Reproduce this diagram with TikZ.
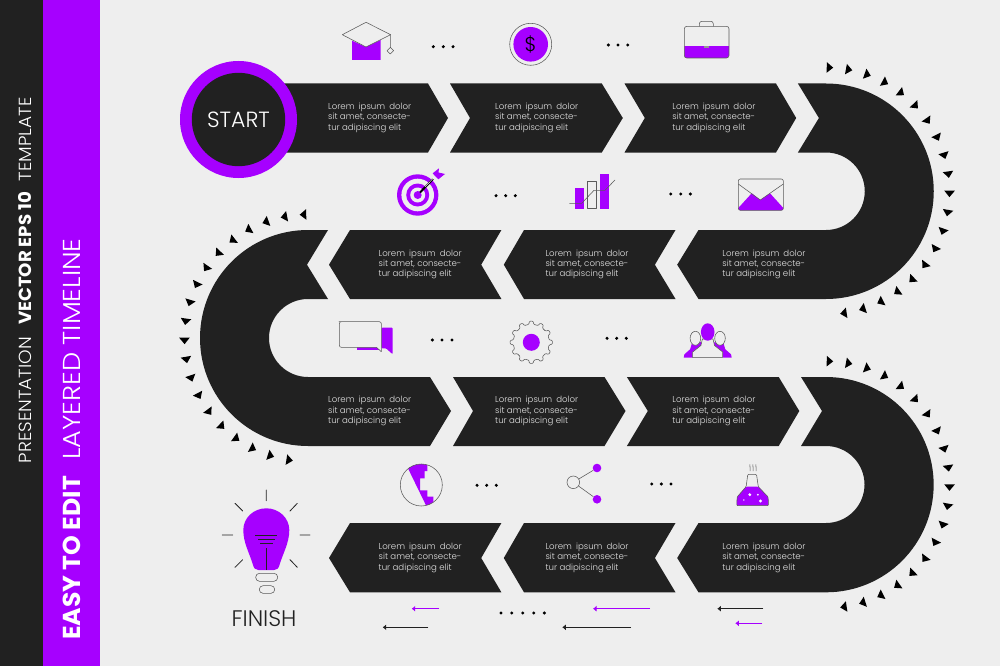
\documentclass[tikz,border=0pt]{standalone}
\usepackage{fontspec}
\setmainfont{Poppins}
\newfontfamily\lightf{Poppins Light}
\newfontfamily\boldf{Poppins Bold}
\usetikzlibrary{arrows.meta}
\definecolor{ink}{HTML}{212121}
\definecolor{vio}{HTML}{A600FF}
\definecolor{paper}{HTML}{EEEEEE}
\definecolor{lineg}{HTML}{5A5A5A}
\definecolor{lore}{HTML}{E2E2E2}
\tikzset{
  road/.style={fill=ink},
  thin line/.style={draw=lineg,line width=0.55pt,line join=round},
  dark line/.style={draw=ink,line width=0.8pt,line cap=round},
  dotm/.style={fill=black},
  vfill/.style={fill=vio},
  lorem/.style={inner sep=0pt,anchor=north west,text=lore,font=\lightf\fontsize{8.6}{10.35}\selectfont,align=left},
  arrowv/.style={draw=vio,line width=0.9pt,-{Latex[length=3.5pt,width=6pt]}},
  arrowk/.style={draw=ink,line width=0.9pt,-{Latex[length=3.5pt,width=6pt]}},
}
\newcommand\loremtext{\hbox to 83pt{Lorem\hfill ipsum\hfill dolor}\\sit amet, consecte-\\tur adipiscing elit}
\newcommand\threedots[4]{\fill[dotm] (#1,#4) circle[radius=1.7pt] (#2,#4) circle[radius=1.7pt] (#3,#4) circle[radius=1.7pt];}
\newcommand\bandticks[4]{%
  \foreach \i in {0,...,19}{%
    \pgfmathsetmacro\aa{#3+\i*#4}%
    \pgfmathsetmacro\sg{(#4>0)?1:-1}%
    \pgfmathsetmacro\px{#1+123.5*cos(\aa)}%
    \pgfmathsetmacro\py{#2-123.5*sin(\aa)}%
    \pgfmathsetmacro\tx{-\sg*sin(\aa)}%
    \pgfmathsetmacro\ty{-\sg*cos(\aa)}%
    \pgfmathsetmacro\nx{cos(\aa)}%
    \pgfmathsetmacro\ny{-sin(\aa)}%
    \fill[black] (\px+4*\tx,\py+4*\ty) -- (\px-2.5*\tx+5.3*\nx,\py-2.5*\ty+5.3*\ny) -- (\px-2.5*\tx-5.3*\nx,\py-2.5*\ty-5.3*\ny) -- cycle;
  }}
\begin{document}
\begin{tikzpicture}[x=1pt,y=-1pt]
\useasboundingbox (0,0) rectangle (1000,666);
\fill[paper] (0,0) rectangle (1000,666);
% side bands
\fill[ink] (0,0) rectangle (43,666);
\fill[vio] (43,0) rectangle (100,666);
\node[rotate=90,anchor=west,inner sep=0pt,text=white,font=\boldf\fontsize{24.5}{24.5}\selectfont] (easy) at (72,640) {\scalebox{1.025}[1]{EASY TO EDIT}};
\node[rotate=90,anchor=west,inner sep=0pt,text=white,font=\lightf\fontsize{24.5}{24.5}\selectfont] (layer) at (72,460) {\scalebox{1.11}[1]{LAYERED TIMELINE}};
\node[rotate=90,anchor=west,inner sep=0pt,text=white,font=\lightf\fontsize{17.5}{17.5}\selectfont] (tmpl) at (25.5,181.7) {\scalebox{1.06}[1]{TEMPLATE}};
\node[rotate=90,anchor=west,inner sep=0pt,text=white,font=\boldf\fontsize{17.5}{17.5}\selectfont] (vec) at (25.5,325) {\scalebox{1.04}[1]{VECTOR EPS 10}};
\node[rotate=90,anchor=east,inner sep=0pt,text=white,font=\lightf\fontsize{17.5}{17.5}\selectfont] (pres) at (25.5,336.7) {\scalebox{1.06}[1]{PRESENTATION}};
% road
\fill[road] (238,83.5) -- (428,83.5) -- (448,118) -- (428,152.5) -- (238,152.5) -- cycle;
\fill[road] (450,83.5) -- (601.8,83.5) -- (622.8,118) -- (601.8,152.5) -- (450,152.5) -- (470,118) -- cycle;
\fill[road] (624.5,83.5) -- (776,83.5) -- (796.2,118) -- (776,152.5) -- (624.5,152.5) -- (644.8,118) -- cycle;
\fill[road] (797.9,83.5) -- (826,83.5) arc[start angle=90,end angle=-90,radius=107.75pt] -- (698.5,299) -- (677.2,264.7) -- (698.5,230) -- (826,230) arc[start angle=-90,end angle=90,radius=38.75pt] -- (797.9,152.5) -- (818.9,118) -- cycle;
\fill[road] (524,230) -- (675.5,230) -- (654.9,264.7) -- (675.5,299) -- (524,299) -- (503.8,264.7) -- cycle;
\fill[road] (350,230) -- (501.4,230) -- (481.2,264.7) -- (501.4,299) -- (350,299) -- (329,264.7) -- cycle;
\fill[road] (328,230) -- (308,230) arc[start angle=90,end angle=270,radius=108pt] -- (430,446) -- (451,411) -- (430,377) -- (308,377) arc[start angle=270,end angle=90,radius=39pt] -- (328,299) -- (307,264.7) -- cycle;
\fill[road] (453,377) -- (604.5,377) -- (625.5,411) -- (604.5,446) -- (453,446) -- (473,411) -- cycle;
\fill[road] (626.9,377) -- (778.7,377) -- (799.3,411) -- (778.7,446) -- (626.9,446) -- (647.8,411) -- cycle;
\fill[road] (801,377) -- (826,377) arc[start angle=90,end angle=-90,radius=107.65pt] -- (698.5,592.3) -- (677.2,558) -- (698.5,523) -- (826,523) arc[start angle=-90,end angle=90,radius=38.5pt] -- (801,446) -- (822,411) -- cycle;
\fill[road] (524,523) -- (675.5,523) -- (654.9,558) -- (675.5,592.3) -- (524,592.3) -- (503.8,558) -- cycle;
\fill[road] (350,523) -- (501.4,523) -- (481.2,558) -- (501.4,592.3) -- (350,592.3) -- (329,558) -- cycle;
% ticks
\bandticks{826}{191}{88.5}{-8.95}
\bandticks{826}{484.7}{88.5}{-8.95}
\bandticks{308}{338}{92}{8.9}
% start circle
\fill[vio] (238.5,119.5) circle[radius=58.5pt];
\node[circle,fill=ink,minimum size=93.4pt,inner sep=0pt,text=white,font=\lightf\fontsize{22}{22}\selectfont] (start) at (238.5,119.5) {START};
% lorem texts
\node[lorem] (t1) at (328,102.7) {\loremtext};
\node[lorem] (t2) at (495,102.7) {\loremtext};
\node[lorem] (t3) at (672.2,102.7) {\loremtext};
\node[lorem] (t4) at (378.5,249.4) {\loremtext};
\node[lorem] (t5) at (545.4,249.4) {\loremtext};
\node[lorem] (t6) at (722.2,249.4) {\loremtext};
\node[lorem] (t7) at (328,396) {\loremtext};
\node[lorem] (t8) at (495,396) {\loremtext};
\node[lorem] (t9) at (672.2,396) {\loremtext};
\node[lorem] (t10) at (378.5,542.7) {\loremtext};
\node[lorem] (t11) at (545.4,542.7) {\loremtext};
\node[lorem] (t12) at (722.2,542.7) {\loremtext};
% dots
\threedots{433.3}{443.3}{453}{46.7}
\threedots{608.3}{618}{627.7}{45}
\threedots{496}{505.7}{515.3}{195.7}
\threedots{670.7}{680.7}{690.3}{194}
\threedots{432.3}{442}{452}{340}
\threedots{607}{616.7}{626.3}{338.3}
\threedots{477}{486.7}{496.3}{485.3}
\threedots{651.7}{661.3}{671}{484}
\fill[dotm] (501,613) circle[radius=1.7pt] (511.7,613) circle[radius=1.7pt] (522.7,613) circle[radius=1.7pt] (533.7,613) circle[radius=1.7pt] (544.3,613) circle[radius=1.7pt];
% graduation cap
\fill[vfill] (352,40.7) -- (366,47) -- (380.7,40) -- (380.7,60) -- (352,60) -- cycle;
\draw[thin line] (342.3,34.7) -- (366,22.3) -- (390.7,34.7) -- (366,47) -- cycle;
\draw[thin line] (390.7,34.7) -- (390.7,47.5) (390.3,47.4) -- (393.6,50.7) -- (390.3,54) -- (387,50.7) -- cycle;
% dollar coin
\draw[thin line] (530.7,44.3) circle[radius=21pt];
\fill[vfill] (530.7,44.3) circle[radius=17.3pt];
\node[inner sep=0pt,text=black,font=\lightf\fontsize{20}{20}\selectfont] (dollar) at (530.7,44.3) {\$};
% briefcase
\begin{scope}
\clip[rounded corners=2.5pt] (684.3,26.3) rectangle (729,58);
\fill[vfill] (684.3,46) rectangle (729,58);
\end{scope}
\draw[thin line,rounded corners=2.5pt] (684.3,26.3) rectangle (729,58);
\draw[thin line,rounded corners=2.5pt] (699.3,26.3) -- (699.3,21.3) -- (713.3,21.3) -- (713.3,26.3);
\fill[lineg!60!paper] (704,45.7) rectangle (708.7,48);
% target
\fill[vfill] (417.7,195) circle[radius=20.7pt];
\fill[paper] (417.7,195) circle[radius=16.3pt];
\fill[vfill] (417.7,195) circle[radius=11.5pt];
\fill[paper] (417.7,195) circle[radius=7.5pt];
\fill[vfill] (417.7,195) circle[radius=4pt];
\draw[black,line width=2pt] (420,192.5) -- (433,179);
\draw[white,line width=0.5pt] (425,186.8) -- (434,177.5);
\fill[vfill] (432.7,173.3) -- (439,168.3) -- (438.5,172.5) -- (445,174) -- (438.3,179.3) -- (435,176) -- cycle;
% bar chart
\fill[vfill] (575.3,188) rectangle (584,208.7);
\draw[thin line] (587.3,181) rectangle (596.7,208.7);
\fill[vfill] (600,174) rectangle (608.7,208.7);
\draw[thin line] (569.3,203.3) -- (581.7,203.3) -- (594,190.3) -- (605,190.3) -- (615,180);
% envelope
\begin{scope}
\clip[rounded corners=2pt] (738.3,179) rectangle (783.3,210.3);
\fill[vfill] (738.3,208) -- (751.7,193.3) -- (760.3,200) -- (770,193.3) -- (783.3,208) -- (783.3,210.3) -- (738.3,210.3) -- cycle;
\end{scope}
\draw[thin line,rounded corners=2pt] (738.3,179) rectangle (783.3,210.3);
\draw[thin line] (738.3,184) -- (760.3,200) -- (783.3,184);
% chat
\fill[vfill,rounded corners=1pt] (381.3,327.7) -- (392.7,327.7) -- (392.7,354.3) -- (386,348.3) -- (381.3,348.3) -- cycle;
\fill[vfill] (357.3,347.3) rectangle (380,350);
\draw[thin line,rounded corners=2pt,fill=paper] (341,321.7) -- (381.3,321.7) -- (381.3,347.3) [sharp corners] -- (381.3,351.7) -- (376.5,347.3) [rounded corners=2pt] -- (339.3,347.3) -- (339.3,321.7) -- cycle;
% gear
\draw[thin line,rounded corners=0.9pt] ({531.3+18*cos(-15)},{342.3-18*sin(-15)})
  \foreach \t in {0,30,...,330}{
    -- ({531.3+18*cos(\t-8)},{342.3-18*sin(\t-8)})
    -- ({531.3+21.2*cos(\t-5)},{342.3-21.2*sin(\t-5)})
    -- ({531.3+21.2*cos(\t+5)},{342.3-21.2*sin(\t+5)})
    -- ({531.3+18*cos(\t+8)},{342.3-18*sin(\t+8)})
    -- ({531.3+18*cos(\t+15)},{342.3-18*sin(\t+15)})
  } -- cycle;
\fill[vfill] (531.3,342.3) circle[radius=8.5pt];
% people
\begin{scope}[xshift=3.4pt]
\fill[vfill] (680.3,357.7) -- (681,354.3) -- (686.7,349.3) -- (688.3,344) -- (692.7,345.5) -- (697,342) -- (700,344) -- (689.3,352) -- (689.3,357.7) -- cycle;
\fill[vfill] (728.3,357.7) -- (727.6,354.3) -- (721.9,349.3) -- (720.3,344) -- (715.9,345.5) -- (711.6,342) -- (708.6,344) -- (719.3,352) -- (719.3,357.7) -- cycle;
\draw[thin line,fill=paper] (689.3,357.7) -- (689.3,352) -- (697.5,345.5) -- (699,339) -- (709.6,339) -- (711.1,345.5) -- (719.3,352) -- (719.3,357.7) -- cycle;
\draw[lineg!70!paper,line width=1.2pt] (689.3,357.7) -- (719.3,357.7);
\draw[thin line,fill=paper] (692,338.3) ellipse[x radius=5.3pt,y radius=7pt];
\draw[thin line,fill=paper] (716.6,338.3) ellipse[x radius=5.3pt,y radius=7pt];
\fill[vfill] (704.3,332) ellipse[x radius=6.8pt,y radius=8.7pt];
\end{scope}
% stairs
\begin{scope}
\clip (421.3,485) circle[radius=21pt];
\fill[vfill] (408.3,469) -- (412,462) -- (427.3,462) -- (427.3,471) -- (424.7,471) -- (424.7,478.3) -- (420,478.3) -- (420,490.3) -- (427.3,490.3) -- (427.3,496.7) -- (433.3,496.7) -- (433.3,502.7) -- (427.3,508) -- cycle;
\end{scope}
\draw[thin line] (421.3,485) circle[radius=21pt];
% share
\node[circle,thin line,minimum size=12.6pt,inner sep=0pt] (hub) at (573.3,482.3) {};
\node[circle,vfill,minimum size=8.6pt,inner sep=0pt] (leaf1) at (597,468) {};
\node[circle,vfill,minimum size=8.6pt,inner sep=0pt] (leaf2) at (597,499.3) {};
\draw[thin line] (hub) -- (leaf1);
\draw[thin line] (hub) -- (leaf2);
% flask
\begin{scope}[xshift=3.8pt]
\fill[vfill,rounded corners=1pt] (742.3,486.7) -- (754.5,486.7) -- (764.3,497) -- (764.7,505.7) -- (733,505.7) -- (733.3,497) -- cycle;
\draw[thin line,rounded corners=1pt] (744,474.3) -- (742.3,486.7) -- (733.3,497) -- (733,505.7) -- (764.7,505.7) -- (764.3,497) -- (754.5,486.7) -- (752.7,474.3) -- cycle;
\fill[white] (746,494.7) circle[radius=1.6pt] (754,494.7) circle[radius=1pt] (756.7,501) circle[radius=1.6pt] (740,500) circle[radius=0.8pt];
\draw[thin line] (746,464.3) .. controls (745,466.5) and (747.5,468) .. (746.3,471) (749,464.3) .. controls (748,466.5) and (750.5,468) .. (749.3,471) (752,464.3) .. controls (751,466.5) and (753.5,468) .. (752.3,471);
\end{scope}
% bulb
\fill[vfill] (266.3,508.3) .. controls (279,508.3) and (289.3,518) .. (289.3,530) .. controls (289.3,543) and (283,553) .. (279.5,565) .. controls (278.5,568.5) and (277,570) .. (274,570) -- (258.5,570) .. controls (255.5,570) and (254,568.5) .. (253,565) .. controls (249.5,553) and (243.3,543) .. (243.3,530) .. controls (243.3,518) and (253.5,508.3) .. (266.3,508.3) -- cycle;
\draw[ink,line width=0.8pt] (255.3,535.3) -- (277.3,535.3) (258.3,539.3) -- (274.7,539.3) (260.3,543) -- (272.7,543) (266.3,548.3) -- (266.3,570);
\draw[thin line,rounded corners=3.8pt] (255.7,573.3) rectangle (277.7,581.3);
\draw[thin line,rounded corners=3.7pt] (259.3,585.7) rectangle (274.7,593.3);
\draw[dark line] (266.3,490) -- (266.3,500.7) (235,503.3) -- (242.7,511) (297.3,503.3) -- (290,511) (222.3,535) -- (232.7,535) (300,535) -- (310,535) (235,567.3) -- (242.7,559.7) (297.3,567.3) -- (290,559.7);
\node[inner sep=0pt,text=ink,font=\lightf\fontsize{22.5}{22.5}\selectfont] (finish) at (264,618.3) {FINISH};
% arrows
\coordinate (a1s) at (439,608.7); \coordinate (a1e) at (411.7,608.7);
\coordinate (a2s) at (428.3,627.3); \coordinate (a2e) at (382.7,627.3);
\coordinate (a3s) at (650,608.7); \coordinate (a3e) at (593,608.7);
\coordinate (a4s) at (631,627.3); \coordinate (a4e) at (562.3,627.3);
\coordinate (a5s) at (763.3,608.7); \coordinate (a5e) at (717.3,608.7);
\coordinate (a6s) at (762.3,623.3); \coordinate (a6e) at (735.3,623.3);
\draw[arrowv] (a1s) -- (a1e);
\draw[arrowk] (a2s) -- (a2e);
\draw[arrowv] (a3s) -- (a3e);
\draw[arrowk] (a4s) -- (a4e);
\draw[arrowk] (a5s) -- (a5e);
\draw[arrowv] (a6s) -- (a6e);
\end{tikzpicture}
\end{document}
